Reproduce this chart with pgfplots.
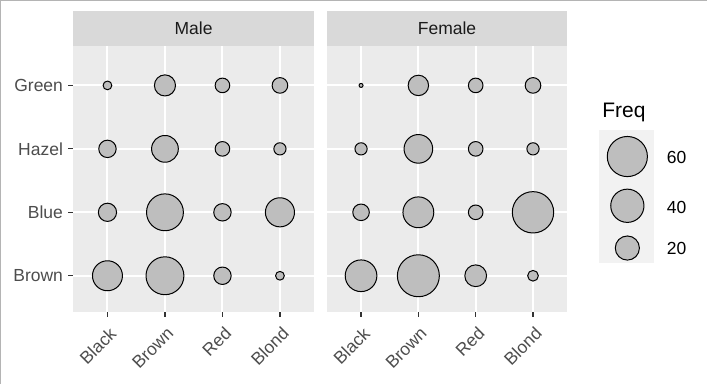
\documentclass[border=0pt]{standalone}
\usepackage{pgfplots}
\pgfplotsset{compat=1.18}
\usepackage{pgfplotstable}
\usepackage{fontspec}
\setmainfont{Liberation Sans}
\definecolor{panelbg}{HTML}{EBEBEB}
\definecolor{stripbg}{HTML}{D9D9D9}
\definecolor{keybg}{HTML}{F2F2F2}
\definecolor{circ}{HTML}{BEBEBE}
\definecolor{tickc}{HTML}{333333}
\definecolor{ticktxt}{HTML}{4D4D4D}
\definecolor{striptxt}{HTML}{1A1A1A}
\definecolor{framec}{HTML}{B4B4B4}

% hair: 1 Black, 2 Brown, 3 Red, 4 Blond ; eye: 1 Brown, 2 Blue, 3 Hazel, 4 Green
\pgfplotstableread{
hair eye f
1 1 32
1 2 11
1 3 10
1 4 3
2 1 53
2 2 50
2 3 25
2 4 15
3 1 10
3 2 10
3 3 7
3 4 7
4 1 3
4 2 30
4 3 5
4 4 8
}\male
\pgfplotstableread{
hair eye f
1 1 36
1 2 9
1 3 5
1 4 2
2 1 66
2 2 34
2 3 29
2 4 14
3 1 16
3 2 7
3 3 7
3 4 7
4 1 4
4 2 64
4 3 5
4 4 8
}\female
\pgfplotstableread{
x y f
628 227.3 60
628 178 40
628 135.7 20
}\legtab

\pgfplotsset{
  panel/.style={
    anchor=south west, scale only axis,
    width=241.5pt, height=266.5pt,
    xmin=0.4, xmax=4.6, ymin=0.423, ymax=4.619,
    axis background/.style={fill=panelbg},
    axis line style={draw=none},
    grid=major, major grid style={white, line width=2pt},
    xtick={1,2,3,4}, xticklabels={Black,Brown,Red,Blond},
    ytick={1,2,3,4},
    tick align=outside, major tick length=4.5pt,
    xtick pos=lower, ytick pos=left,
    tick style={color=tickc, line width=1.2pt},
    xticklabel style={yshift=-9pt, xshift=1pt, rotate=45, anchor=north east, inner sep=0pt,
      font=\fontsize{17.5}{19}\selectfont, text=ticktxt},
    yticklabel style={anchor=east, inner sep=0pt, xshift=-5pt,
      font=\fontsize{17.5}{19}\selectfont, text=ticktxt},
  },
  bubbles/.style={
    scatter, only marks, mark=*,
    point meta=\thisrow{f},
    scatter/use mapped color={draw=black, fill=circ},
    mark options={line width=1pt},
    visualization depends on={(4+38*sqrt((\thisrow{f}-2)/64))/2 \as \msize},
    scatter/@pre marker code/.append style={/tikz/mark size=\msize},
  },
}

\begin{document}
\begin{tikzpicture}
\path (0,0) rectangle (708pt,384pt);
\fill[white] (0,0) rectangle (708pt,384pt);
\draw[framec, line width=1.5pt] (0.75pt,0) -- (0.75pt,383.25pt) -- (708pt,383.25pt);

% strips
\fill[stripbg] (73pt,338pt) rectangle (314.5pt,373pt);
\node[text=striptxt, font=\fontsize{17.5}{19}\selectfont] at (193.75pt,355.5pt) {Male};
\fill[stripbg] (327pt,338pt) rectangle (568pt,373pt);
\node[text=striptxt, font=\fontsize{17.5}{19}\selectfont] at (447.5pt,355.5pt) {Female};

\begin{axis}[panel, at={(72.7pt,71.3pt)}, xmin=0.394, xmax=4.59,
  yticklabels={Brown,Blue,Hazel,Green}]
\addplot[bubbles] table[x=hair, y=eye] {\male};
\end{axis}

\begin{axis}[panel, at={(327pt,71.3pt)}, width=241pt,
  yticklabels={}, ytick style={draw=none}]
\addplot[bubbles] table[x=hair, y=eye] {\female};
\end{axis}

% legend
\node[anchor=base west, font=\fontsize{21}{24}\selectfont] at (599.5pt,266pt) {Freq};
\fill[keybg] (599.3pt,120.7pt) rectangle (654.7pt,254pt);
\begin{axis}[at={(0pt,0pt)}, anchor=south west, scale only axis,
  width=708pt, height=384pt, xmin=0, xmax=708, ymin=0, ymax=384,
  hide axis, clip=false]
\addplot[bubbles] table[x=x, y=y] {\legtab};
\node[anchor=west, font=\fontsize{17.5}{19}\selectfont] at (axis cs:664,226) {60};
\node[anchor=west, font=\fontsize{17.5}{19}\selectfont] at (axis cs:664,176.5) {40};
\node[anchor=west, font=\fontsize{17.5}{19}\selectfont] at (axis cs:664,135) {20};
\end{axis}
\end{tikzpicture}
\end{document}
